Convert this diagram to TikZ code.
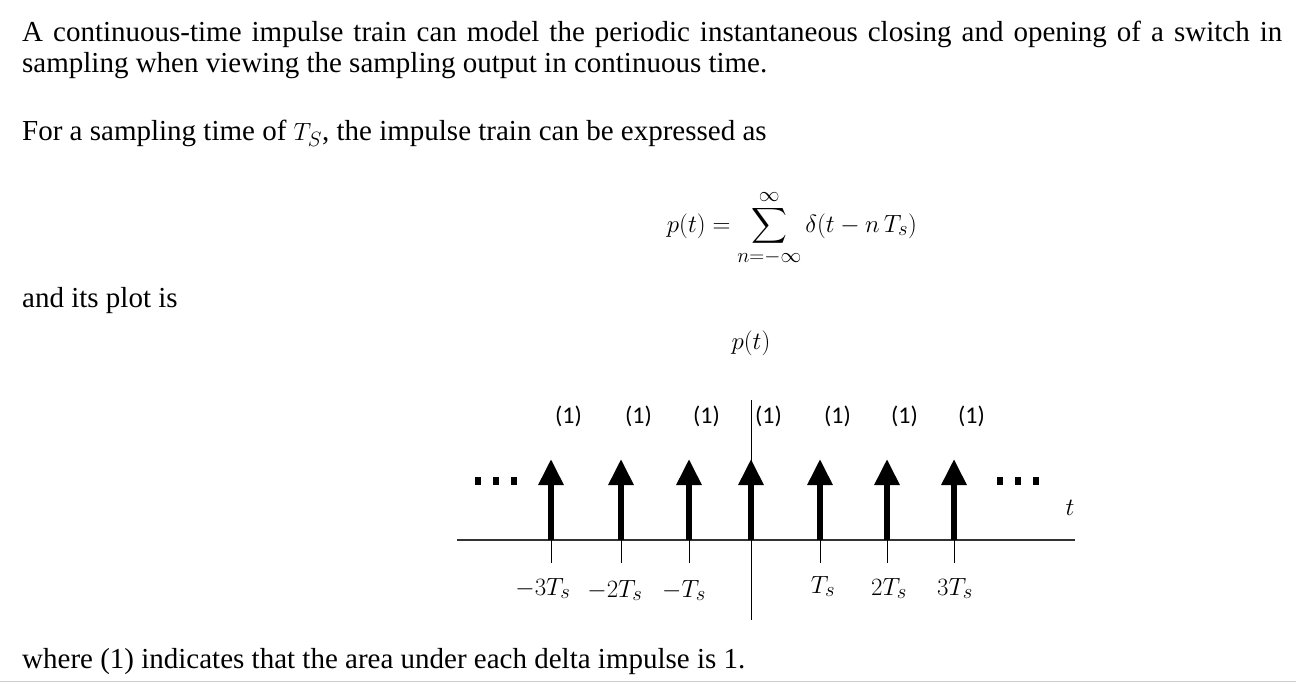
\documentclass[tikz,border=0pt]{standalone}
\usepackage{fontspec}
\usepackage{amsmath}
\setmainfont{Liberation Serif}
\newfontfamily\lblfont{Carlito}
\usetikzlibrary{arrows.meta}
\begin{document}
\begin{tikzpicture}[x=1pt,y=-1pt,
  txt/.style={anchor=base west,inner sep=0pt,font=\fontsize{29}{31}\selectfont},
  imp/.style={line width=6pt,-{Triangle[width=24pt,length=26pt]}},
  tick/.style={line width=1pt},
  one/.style={anchor=base west,inner sep=0pt,font=\lblfont\fontsize{24}{26}\selectfont},
  tl/.style={anchor=base,inner sep=0pt,font=\fontsize{28}{30}\selectfont}]
\useasboundingbox (0,0) rectangle (1296,684);
\fill[white] (0,0) rectangle (1296,684);
\draw[gray!40,line width=1pt] (0,681) -- (1296,681);
\node[txt,text width=1260pt,align=justify] (p1) at (22,42) {A continuous-time impulse train can model the periodic instantaneous closing and opening of a switch in sampling when viewing the sampling output in continuous time.};
\node[txt] (p2) at (22,141) {For a sampling time of $T_S$, the impulse train can be expressed as};
\node[inner sep=0pt,font=\fontsize{31}{34}\selectfont] (eq) at (792,228) {$\displaystyle p(t)=\sum_{n=-\infty}^{\infty}\delta(t-n\,T_s)$};
\node[txt] (p3) at (22,308) {and its plot is};
\node[inner sep=0pt,font=\fontsize{33}{36}\selectfont] (pt) at (751,343) {$p(t)$};
\node[txt] (p4) at (22,668) {where (1) indicates that the area under each delta impulse is 1.};
% axes
\coordinate (xl) at (457,540); \coordinate (xr) at (1075,540);
\draw[line width=1.3pt,black!80] (xl) -- (xr);
\coordinate (yt) at (751,400); \coordinate (yb) at (751,620);
\draw[line width=1pt] (yt) -- (yb);
\node[inner sep=0pt,font=\fontsize{30}{32}\selectfont] (tt) at (1070,508) {$t$};
\foreach \x/\n in {551/a,621/b,689/c,751/d,820/e,887/f,954/g}{
  \coordinate (b\n) at (\x,540);
  \coordinate (h\n) at (\x,459);
  \draw[imp] (b\n) -- (h\n);
  \node[one] (o\n) at (\x+4,424) {(1)};
}
\foreach \x/\n in {551/a,621/b,689/c,820/e,887/f,954/g}{
  \coordinate (s\n) at (\x,540); \coordinate (e\n) at (\x,563);
  \draw[tick] (s\n) -- (e\n);
}
\node[tl] (l1) at (543,595) {$-3T_s$};
\node[tl] (l2) at (615,597) {$-2T_s$};
\node[tl] (l3) at (684,597) {$-T_s$};
\node[tl] (l4) at (823,593) {$T_s$};
\node[tl] (l5) at (889,595) {$2T_s$};
\node[tl] (l6) at (955,595) {$3T_s$};
\foreach \x in {478,496,514,1000,1018,1036}{
  \fill (\x-3,477) rectangle (\x+3,485);
}
\end{tikzpicture}
\end{document}
